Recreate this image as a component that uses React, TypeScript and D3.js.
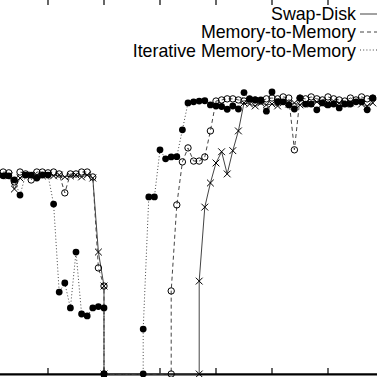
import React from "react";
import * as d3 from "d3";

const W = 377;
const H = 377;

// x ticks (unlabelled in the crop)
const xTicks = [0, 10, 20, 30, 40, 50];

const seriesNames = ["Swap-Disk", "Memory-to-Memory", "Iterative Memory-to-Memory"];

// [x, y] pairs per series
const swapDisk: [number, number][] = [
  [-8, 72.6], [-7, 72.3], [-6, 67.5], [-5, 71.5], [-4, 72.6], [-3, 72.3], [-2, 72.6], [-1, 72.3],
  [0, 73.0], [1, 72.3], [2, 72.6], [3, 71.9], [4, 72.3], [5, 72.6], [6, 71.9], [7, 72.6],
  [8, 71.5], [9, 44.5], [10, 32.1], [10, 0], [27, 0], [27, 33.9], [28, 60.9], [29, 69.7],
  [30, 77.0], [31, 81.1], [32, 73.0], [33, 81.5], [34, 88.7], [35, 98.9], [36, 98.5], [37, 97.8],
  [38, 98.9], [39, 98.2], [40, 98.5], [41, 97.8], [42, 98.9], [43, 98.5], [44, 98.9], [45, 98.2],
  [46, 98.9], [47, 98.5], [48, 99.3], [49, 98.5], [50, 98.9], [51, 99.6], [52, 98.9], [53, 98.5],
  [54, 98.9], [55, 99.6], [56, 98.5], [57, 97.8], [58, 98.9],
];

const memToMem: [number, number][] = [
  [-8, 73.7], [-7, 73.4], [-6, 70.1], [-5, 73.7], [-4, 73.0], [-3, 70.8], [-2, 73.7], [-1, 73.7],
  [0, 73.4], [1, 73.7], [2, 73.0], [3, 66.1], [4, 73.0], [5, 73.0], [6, 73.7], [7, 73.7],
  [8, 71.9], [9, 38.7], [10, 32.1], [10, 0], [22, 0], [22, 30.3], [23, 61.7], [24, 77.4],
  [25, 82.5], [26, 77.7], [27, 77.7], [28, 79.2], [29, 88.7], [30, 99.6], [31, 100.0], [32, 100.4],
  [33, 100.4], [34, 100.0], [35, 99.6], [36, 100.4], [37, 100.0], [38, 99.6], [39, 100.4], [40, 100.7],
  [41, 100.4], [42, 101.1], [43, 100.7], [44, 81.8], [45, 100.7], [46, 100.4], [47, 101.1], [48, 100.4],
  [49, 100.0], [50, 101.1], [51, 100.4], [52, 100.0], [53, 99.6], [54, 100.7], [55, 100.0], [56, 101.1],
  [57, 100.4], [58, 100.7],
];

const iterMemToMem: [number, number][] = [
  [-8, 72.3], [-7, 72.3], [-6, 70.8], [-5, 65.3], [-4, 72.6], [-3, 72.6], [-2, 71.5], [-1, 72.6],
  [0, 72.6], [1, 62.0], [2, 29.9], [3, 33.2], [4, 24.1], [5, 44.5], [6, 21.9], [7, 21.2],
  [8, 24.1], [9, 24.6], [10, 24.1], [10, 0], [17, 0], [17, 16.4], [18, 64.6], [19, 64.6],
  [20, 81.8], [21, 78.5], [22, 79.2], [23, 79.3], [24, 89.1], [25, 98.9], [26, 99.3], [27, 99.6],
  [28, 99.7], [29, 98.2], [30, 97.8], [31, 97.6], [32, 96.6], [33, 97.8], [34, 96.7], [35, 102.7],
  [36, 100.3], [37, 100.0], [38, 100.0], [39, 95.9], [40, 102.9], [41, 99.3], [42, 99.3], [43, 98.2],
  [44, 96.7], [45, 100.7], [46, 98.5], [47, 98.5], [48, 96.4], [49, 98.9], [50, 98.2], [51, 98.5],
  [52, 97.1], [53, 98.5], [54, 98.5], [55, 99.3], [56, 99.3], [57, 96.4], [58, 100.7],
];

const x = d3.scaleLinear().domain([-8.571, 58.75]).range([0, W]);
const y = d3.scaleLinear().domain([0, 137.2]).range([374, -2]);

const line = d3
  .line<[number, number]>()
  .x((d) => x(d[0]))
  .y((d) => y(d[1]));

const styles = [
  { dash: "none", marker: "cross" },
  { dash: "4,3", marker: "open" },
  { dash: "1,2.2", marker: "filled" },
];

function Marker({ kind, cx, cy }: { kind: string; cx: number; cy: number }) {
  if (kind === "cross") {
    const s = 3.4;
    return (
      <path
        d={`M${cx - s},${cy - s}L${cx + s},${cy + s}M${cx - s},${cy + s}L${cx + s},${cy - s}`}
        stroke="#000"
        strokeWidth={1}
        fill="none"
      />
    );
  }
  if (kind === "open") {
    return <circle cx={cx} cy={cy} r={3.2} fill="none" stroke="#000" strokeWidth={1} />;
  }
  return <circle cx={cx} cy={cy} r={3.4} fill="#000" />;
}

export default function App() {
  const all = [swapDisk, memToMem, iterMemToMem];
  const legendY = [14, 32, 50];
  const legendBase = [19.5, 38, 56.5];
  return (
    <svg
      width={W}
      height={H}
      style={{ position: "fixed", left: 0, top: 0, background: "#fff" }}
      fontFamily="'Liberation Sans', Arial, Helvetica, sans-serif"
    >
      <rect x={0} y={0} width={W} height={H} fill="#fff" />
      {/* frame */}
      <line x1={0} x2={W} y1={y(0) + 0.4} y2={y(0) + 0.4} stroke="#000" strokeWidth={2.4} />
      {xTicks.map((t) => (
        <g key={t}>
          <line x1={x(t)} x2={x(t)} y1={y(0)} y2={y(0) - 6} stroke="#000" strokeWidth={1.2} />
          <line x1={x(t)} x2={x(t)} y1={-2} y2={5} stroke="#000" strokeWidth={1.2} />
        </g>
      ))}
      {/* series */}
      {all.map((data, si) => (
        <g key={si}>
          <path
            d={line(data) || ""}
            fill="none"
            stroke="#444"
            strokeWidth={1}
            strokeDasharray={styles[si].dash}
          />
          {data.map((d, i) => (
            <Marker key={i} kind={styles[si].marker} cx={x(d[0])} cy={y(d[1])} />
          ))}
        </g>
      ))}
      {/* legend */}
      {seriesNames.map((name, i) => (
        <g key={name}>
          <text
            x={356}
            y={legendBase[i]}
            textAnchor="end"
            fontSize={17.8}
            fill="#000"
          >
            {name}
          </text>
          <line
            x1={360}
            x2={400}
            y1={legendY[i]}
            y2={legendY[i]}
            stroke="#444"
            strokeWidth={1}
            strokeDasharray={styles[i].dash}
          />
        </g>
      ))}
    </svg>
  );
}
